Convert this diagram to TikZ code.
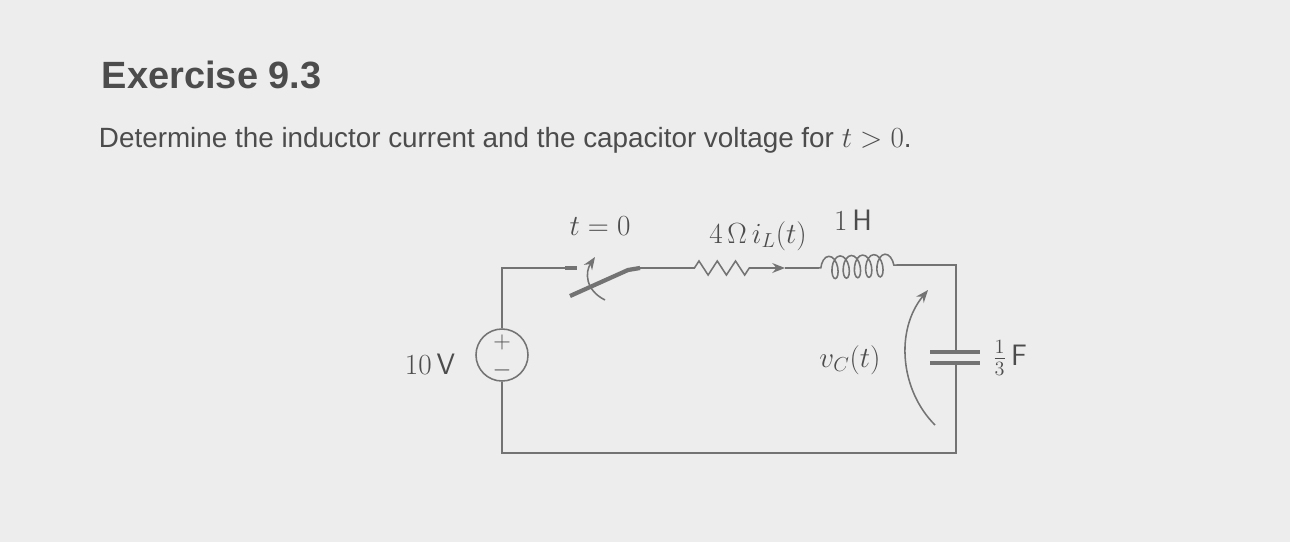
\documentclass[tikz,border=0pt]{standalone}
\usepackage{fontspec}
\newfontfamily\uifont{Liberation Sans}
\usetikzlibrary{decorations.pathmorphing,arrows.meta}
\begin{document}
\begin{tikzpicture}[x=0.025cm,y=-0.025cm,
  wire/.style={draw=black!55,line width=1.1pt},
  lbl/.style={text=black!70,font=\fontsize{21}{25}\selectfont},
  pm/.style={text=black!70,font=\fontsize{17}{18}\selectfont,inner sep=0pt},
  arr/.style={draw=black!55,line width=1.1pt,-{Stealth[length=9pt,width=7pt]}}]
\fill[black!7] (0,0) rectangle (1290,542);
\useasboundingbox (0,0) rectangle (1290,542);
\node[anchor=west,text=black!70,font=\uifont\bfseries\fontsize{27}{32}\selectfont] (title) at (97,75) {Exercise 9.3};
\node[anchor=west,text=black!70,font=\uifont\fontsize{19.8}{23}\selectfont] (task) at (94,140) {Determine the inductor current and the capacitor voltage for \(t>0\).};
\coordinate (tl) at (502,268); \coordinate (bl) at (502,453);
\coordinate (tr) at (956,265); \coordinate (br) at (956,453);
\node[circle,draw=black!55,line width=1.1pt,minimum size=1.3cm,inner sep=0pt] (src) at (502,355) {};
\node[pm] (plus) at (502,342) {$+$};
\node[pm] (minus) at (502,370) {$-$};
\coordinate (s1) at (565,268); \coordinate (s1b) at (577,268);
\coordinate (sb1) at (570,296); \coordinate (sb2) at (628,270); \coordinate (s2) at (640,268);
\coordinate (r1) at (693,268); \coordinate (r2) at (755,268);
\coordinate (a2) at (785,268);
\coordinate (l1) at (818,268); \coordinate (l2) at (897,265);
\coordinate (c1) at (956,353); \coordinate (c2) at (956,363);
\draw[wire] (src.south) -- (bl) -- (br) -- (c2);
\draw[wire] (src.north) -- (tl) -- (s1);
\draw[draw=black!55,line width=3pt] (s1) -- (s1b);
\draw[draw=black!55,line width=3pt] (sb1) -- (sb2) -- (s2);
\draw[wire] (s2) -- (r1);
\draw[wire,decorate,decoration={zigzag,segment length=13pt,amplitude=5pt,pre length=1pt,post length=1pt}] (r1) -- (r2);
\draw[arr] (r2) -- (a2);
\draw[wire] (a2) -- (l1);
\draw[wire,decorate,decoration={coil,aspect=0.5,segment length=8pt,amplitude=8pt,pre length=2pt,post length=2pt}] (l1) -- (l2);
\draw[wire] (l2) -- (tr) -- (c1);
\draw[draw=black!55,line width=2.6pt] (930,352) -- (980,352) (930,363) -- (980,363);
\draw[arr] (605,300) .. controls (585,290) and (585,272) .. (595,257);
\draw[arr] (935,425) .. controls (900,390) and (895,330) .. (928,290);
\node[lbl] (t0) at (600,226) {$t=0$};
\node[lbl] (rl) at (758,236) {$4\,\Omega\,i_L(t)$};
\node[lbl] (lh) at (853,220) {$1\,\mathsf{H}$};
\node[lbl] (vc) at (850,360) {$v_C(t)$};
\node[lbl] (cf) at (1010,358) {$\frac{1}{3}\,\mathsf{F}$};
\node[lbl] (vs) at (430,364) {$10\,\mathsf{V}$};
\end{tikzpicture}
\end{document}
